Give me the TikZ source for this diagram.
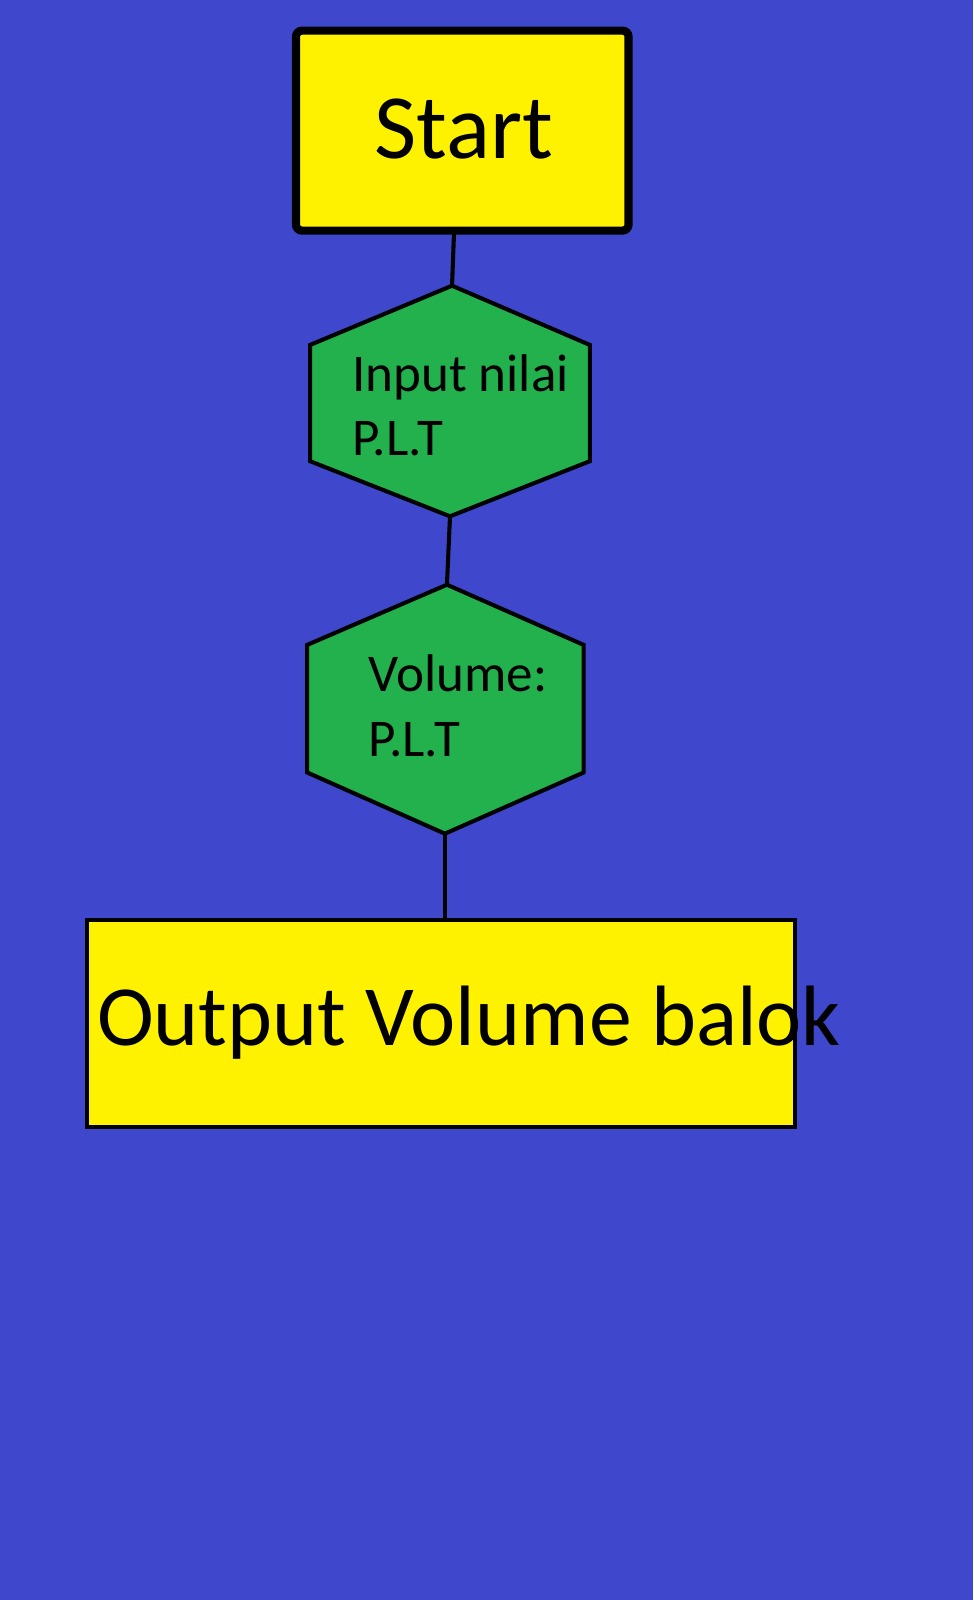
\documentclass[tikz,border=0pt]{standalone}
\usepackage{fontspec}
\setmainfont{Carlito}
\definecolor{bg}{HTML}{3F48CC}
\definecolor{yel}{HTML}{FFF200}
\definecolor{grn}{HTML}{22B14C}
\begin{document}
\begin{tikzpicture}[x=1pt,y=-1pt,
  hexa/.style={fill=grn,draw=black,line width=4pt,line join=miter},
  conn/.style={draw=black,line width=4pt},
  txt/.style={anchor=base west,inner sep=0pt}]
\fill[bg] (0,0) rectangle (954,1568);
\useasboundingbox (0,0) rectangle (954,1568);
% Start
\draw[fill=yel,line width=8pt,rounded corners=6pt] (290,30) rectangle (616,226);
\node[txt,font=\fontsize{90}{90}\selectfont] (start) at (367,155) {Start};
\coordinate (s) at (445,226);
% hex 1
\coordinate (h1t) at (443,280); \coordinate (h1b) at (441,506);
\draw[hexa] (h1t) -- (578,338) -- (578,452) -- (h1b) -- (304,452) -- (304,338) -- cycle;
\node[txt,font=\fontsize{52}{52}\selectfont] (in1) at (345,384) {Input nilai};
\node[txt,font=\fontsize{52}{52}\selectfont] (in2) at (345,446) {P.L.T};
% hex 2
\coordinate (h2t) at (438,573); \coordinate (h2b) at (436,817);
\draw[hexa] (h2t) -- (572,632) -- (572,757) -- (h2b) -- (301,757) -- (301,632) -- cycle;
\node[txt,font=\fontsize{52}{52}\selectfont] (v1) at (361,678) {Volume:};
\node[txt,font=\fontsize{52}{52}\selectfont] (v2) at (361,741) {P.L.T};
% output
\draw[fill=yel,line width=4pt] (85,902) rectangle (779,1104);
\coordinate (o) at (436,902);
\node[txt,font=\fontsize{84}{84}\selectfont] (out) at (95,1025) {Output Volume balok};
% connectors
\draw[conn] (s) -- (h1t);
\draw[conn] (h1b) -- (h2t);
\draw[conn] (h2b) -- (o);
\end{tikzpicture}
\end{document}
